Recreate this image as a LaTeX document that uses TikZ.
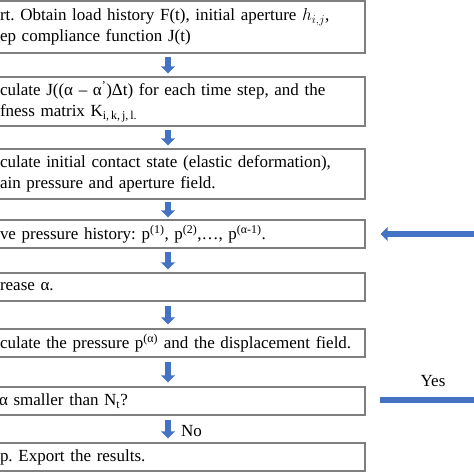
\documentclass[tikz,border=0pt]{standalone}
\usepackage{fontspec}
\setmainfont{Liberation Serif}
\usepackage{xcolor}
\usetikzlibrary{arrows.meta}

\definecolor{flowblue}{HTML}{4472C4}
\definecolor{boxgray}{HTML}{7F7F7F}
\frenchspacing

\tikzset{
    procbox/.style = {rectangle, draw = boxgray, line width = 1.4pt, fill = white,
        minimum width = 370pt, text width = 360pt, inner xsep = 5pt, inner ysep = 0pt,
        align = left, font = \fontsize{17}{21}\selectfont},
    flowarrow/.style = {draw = flowblue, line width = 6pt,
        -{Triangle[width = 14pt, length = 7pt]}},
    backline/.style = {draw = flowblue, line width = 6pt},
    lbl/.style = {font = \fontsize{17}{21}\selectfont, inner sep = 0pt}
}

\begin{document}
\begin{tikzpicture}[x=1pt,y=-1pt]
    \useasboundingbox[fill = white] (0, 0) rectangle (474, 474);

    \node[procbox, minimum height = 52pt] (start) at (180, 27)
        {rt. Obtain load history F(t), initial aperture $h_{i,j}$,\\ep compliance function J(t)};
    \node[procbox, minimum height = 49pt] (stiff) at (180, 101.5)
        {culate J((α – α\textsuperscript{'})Δt) for each time step, and the\\fness matrix K\textsubscript{i,\,k,\,j,\,l.}};
    \node[procbox, minimum height = 50pt] (init) at (180, 174)
        {culate initial contact state (elastic deformation),\\ain pressure and aperture field.};
    \node[procbox, minimum height = 28pt] (save) at (180, 234)
        {ve pressure history: p\textsuperscript{(1)}, p\textsuperscript{(2)},…, p\textsuperscript{(α-1)}.};
    \node[procbox, minimum height = 28pt] (incr) at (180, 287) {rease α.};
    \node[procbox, minimum height = 28pt] (calc) at (180, 343)
        {culate the pressure p\textsuperscript{(α)} and the displacement field.};
    \node[procbox, minimum height = 28pt] (check) at (180, 401)
        {\hspace*{-1pt}α smaller than N\textsubscript{t}?};
    \node[procbox, minimum height = 28pt] (stop) at (180, 457) {p. Export the results.};

    % downward flow
    \draw[flowarrow] ([xshift = -12pt, yshift = -3pt]start.south) -- ([xshift = -12pt, yshift = 3pt]stiff.north);
    \draw[flowarrow] ([xshift = -12pt, yshift = -3pt]stiff.south) -- ([xshift = -12pt, yshift = 3pt]init.north);
    \draw[flowarrow] ([xshift = -12pt, yshift = -2pt]init.south) -- ([xshift = -12pt, yshift = 2pt]save.north);
    \draw[flowarrow] ([xshift = -12pt, yshift = -3pt]save.south) -- ([xshift = -12pt, yshift = 3pt]incr.north);
    \draw[flowarrow] ([xshift = -12pt, yshift = -4pt]incr.south) -- ([xshift = -12pt, yshift = 4pt]calc.north);
    \draw[flowarrow] ([xshift = -12pt, yshift = -4pt]calc.south) -- ([xshift = -12pt, yshift = 4pt]check.north);
    \draw[flowarrow] ([xshift = -12pt, yshift = -4pt]check.south) -- ([xshift = -12pt, yshift = 4pt]stop.north);
    \node[lbl, anchor = west] (no) at (181, 431) {No};

    % loop back
    \coordinate (loopout) at (480, 400);
    \coordinate (loopin) at (480, 234);
    \draw[backline] ([xshift = 14pt, yshift = 1pt]check.east) -- (loopout);
    \draw[flowarrow] (loopin) -- ([xshift = 15pt]save.east);
    \node[lbl] (yes) at (433, 381) {Yes};
\end{tikzpicture}
\end{document}
